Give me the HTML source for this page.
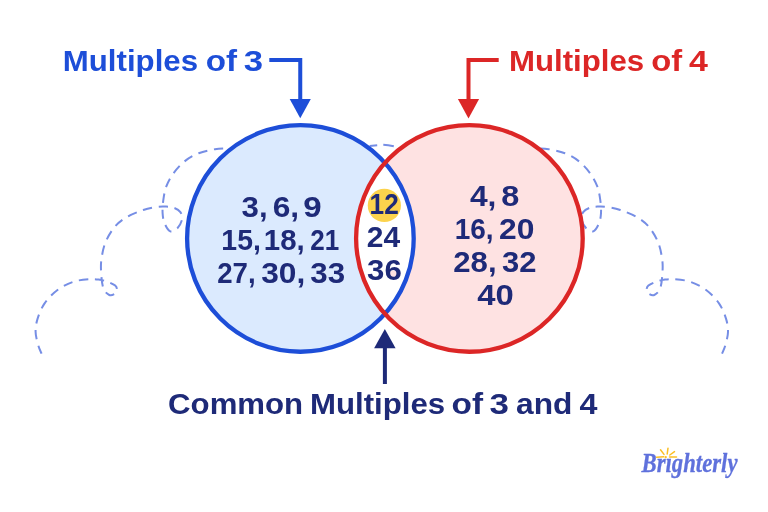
<!DOCTYPE html>
<html lang="en"><head><meta charset="utf-8"><title>Common Multiples of 3 and 4</title>
<style>
html,body{margin:0;padding:0;background:#fff;}
svg{display:block;font-family:"Liberation Sans",sans-serif;font-weight:bold;}
.cl{fill:none;stroke:#768ee5;stroke-width:2;stroke-dasharray:9.3 6.7;stroke-dashoffset:7.1;stroke-linecap:butt;}
</style></head><body>
<svg width="768" height="512" viewBox="0 0 768 512">
<rect width="768" height="512" fill="#fff"/>
<defs><mask id="aa"><rect width="768" height="512" fill="#fff"/></mask><clipPath id="lens"><circle cx="300.4" cy="238.45" r="113.3"/></clipPath></defs>
<!-- clouds -->
<path class="cl" d="M232.0,147.9C231.3,147.9 230.9,148.0 228.1,148.2C225.3,148.4 219.9,148.3 215.0,149.2C210.1,150.0 203.8,151.3 198.7,153.3C193.6,155.3 188.7,158.0 184.5,161.4C180.3,164.8 176.4,169.3 173.3,173.5C170.2,177.7 167.9,182.1 166.2,186.7C164.5,191.3 163.8,196.6 163.2,201.0C162.6,205.4 162.4,209.4 162.6,213.1C162.8,216.8 163.3,220.2 164.6,223.3C165.9,226.4 168.2,230.6 170.3,231.4C172.4,232.2 175.4,230.3 177.4,228.3C179.4,226.3 181.6,221.9 182.1,219.2C182.6,216.5 181.7,214.0 180.4,212.1C179.1,210.2 176.8,208.9 174.4,208.0C172.0,207.1 169.3,206.8 166.2,206.6C163.1,206.4 159.8,206.4 156.0,207.0C152.2,207.6 148.2,208.3 143.3,210.0C138.5,211.7 131.6,214.3 126.9,217.0C122.2,219.7 118.7,222.2 115.2,226.3C111.7,230.4 108.1,236.3 105.8,241.6C103.5,246.9 102.4,252.9 101.6,258.0C100.8,263.1 100.8,266.9 101.1,272.0C101.4,277.1 102.0,284.6 103.4,288.4C104.8,292.2 107.3,294.1 109.3,295.0C111.3,295.9 113.9,294.5 115.2,293.6C116.5,292.7 117.0,290.9 117.0,289.6C117.0,288.3 116.7,286.9 115.2,285.6C113.7,284.3 110.6,282.9 108.1,281.9C105.5,280.9 102.9,280.2 99.9,279.8C96.9,279.4 94.6,278.9 90.3,279.2C86.0,279.5 79.4,279.8 73.9,281.6C68.4,283.4 62.4,286.4 57.5,290.0C52.6,293.6 47.9,298.6 44.6,303.4C41.3,308.2 39.1,313.8 37.6,318.6C36.1,323.4 35.5,327.5 35.6,332.0C35.7,336.5 37.3,341.9 38.3,345.5C39.3,349.1 41.0,352.3 41.6,353.7"/>
<path class="cl" d="M531.6,147.9C532.2,147.9 532.7,148.0 535.5,148.2C538.3,148.4 543.7,148.3 548.6,149.2C553.5,150.0 559.8,151.3 564.9,153.3C570.0,155.3 574.9,158.0 579.1,161.4C583.3,164.8 587.2,169.3 590.3,173.5C593.3,177.7 595.7,182.1 597.4,186.7C599.1,191.3 599.8,196.6 600.4,201.0C601.0,205.4 601.2,209.4 601.0,213.1C600.8,216.8 600.3,220.2 599.0,223.3C597.7,226.4 595.4,230.6 593.3,231.4C591.2,232.2 588.2,230.3 586.2,228.3C584.2,226.3 582.0,221.9 581.5,219.2C581.0,216.5 581.9,214.0 583.2,212.1C584.5,210.2 586.8,208.9 589.2,208.0C591.6,207.1 594.3,206.8 597.4,206.6C600.5,206.4 603.8,206.4 607.6,207.0C611.4,207.6 615.4,208.3 620.3,210.0C625.1,211.7 632.0,214.3 636.7,217.0C641.4,219.7 644.9,222.2 648.4,226.3C651.9,230.4 655.5,236.3 657.8,241.6C660.1,246.9 661.2,252.9 662.0,258.0C662.8,263.1 662.8,266.9 662.5,272.0C662.2,277.1 661.6,284.6 660.2,288.4C658.8,292.2 656.3,294.1 654.3,295.0C652.3,295.9 649.7,294.5 648.4,293.6C647.1,292.7 646.6,290.9 646.6,289.6C646.6,288.3 646.9,286.9 648.4,285.6C649.9,284.3 653.0,282.9 655.5,281.9C658.0,280.9 660.7,280.2 663.7,279.8C666.7,279.4 669.0,278.9 673.3,279.2C677.6,279.5 684.2,279.8 689.7,281.6C695.2,283.4 701.2,286.4 706.1,290.0C711.0,293.6 715.7,298.6 719.0,303.4C722.3,308.2 724.5,313.8 726.0,318.6C727.5,323.4 728.1,327.5 728.0,332.0C727.9,336.5 726.3,341.9 725.3,345.5C724.3,349.1 722.5,352.3 722.0,353.7"/>
<path class="cl" style="stroke-dasharray:none" d="M369.6,145.9L377.2,145.3M383.3,144.8Q388,145 393.8,146.3"/>
<!-- circles -->
<circle cx="300.4" cy="238.45" r="113.3" fill="#dbeafe"/>
<circle cx="469.4" cy="238.45" r="113.3" fill="#fee2e2"/>
<circle cx="469.4" cy="238.45" r="113.3" fill="#fff" clip-path="url(#lens)"/>
<circle cx="300.4" cy="238.45" r="113.3" fill="none" stroke="#1d4ed8" stroke-width="4.3"/>
<circle cx="469.4" cy="238.45" r="113.3" fill="none" stroke="#dc2626" stroke-width="4.3"/>
<circle cx="384.35" cy="205.45" r="16.6" fill="#fcd34d"/>
<ellipse cx="393.3" cy="273.7" rx="3.4" ry="3.2" fill="#fee2e2"/>
<!-- arrows -->
<path d="M269.3,60H300.25V100" fill="none" stroke="#1d4ed8" stroke-width="4"/>
<path d="M289.7,99H310.8L300.25,118.3Z" fill="#1d4ed8"/>
<path d="M498.7,60H468.5V100" fill="none" stroke="#dc2626" stroke-width="4"/>
<path d="M457.9,99H479.1L468.5,118.4Z" fill="#dc2626"/>
<path d="M384.9,384V347" fill="none" stroke="#1e2a78" stroke-width="4"/>
<path d="M374.1,348.2H395.6L384.85,328.9Z" fill="#1e2a78"/>
<!-- labels and numbers -->
<g mask="url(#aa)">
<text y="70.8" font-size="30.3" fill="#1d4ed8"><tspan x="62.84" textLength="135.19" lengthAdjust="spacingAndGlyphs">Multiples</tspan> <tspan x="205.73" textLength="31.30" lengthAdjust="spacingAndGlyphs">of</tspan> <tspan x="243.74" textLength="19.32" lengthAdjust="spacingAndGlyphs">3</tspan></text>
<text y="70.8" font-size="30.3" fill="#dc2626"><tspan x="508.94" textLength="135.19" lengthAdjust="spacingAndGlyphs">Multiples</tspan> <tspan x="651.25" textLength="30.89" lengthAdjust="spacingAndGlyphs">of</tspan> <tspan x="689.04" textLength="18.87" lengthAdjust="spacingAndGlyphs">4</tspan></text>
<text y="414.0" font-size="30.3" fill="#1e2a78"><tspan x="168.11" textLength="134.96" lengthAdjust="spacingAndGlyphs">Common</tspan> <tspan x="309.94" textLength="135.14" lengthAdjust="spacingAndGlyphs">Multiples</tspan> <tspan x="451.62" textLength="31.51" lengthAdjust="spacingAndGlyphs">of</tspan> <tspan x="489.53" textLength="19.44" lengthAdjust="spacingAndGlyphs">3</tspan> <tspan x="516.05" textLength="56.36" lengthAdjust="spacingAndGlyphs">and</tspan> <tspan x="579.47" textLength="17.94" lengthAdjust="spacingAndGlyphs">4</tspan></text>
<text y="217.0" font-size="28.6" fill="#1e2a78"><tspan x="241.58" textLength="26.04" lengthAdjust="spacingAndGlyphs">3,</tspan> <tspan x="272.69" textLength="26.46" lengthAdjust="spacingAndGlyphs">6,</tspan> <tspan x="303.24" textLength="18.39" lengthAdjust="spacingAndGlyphs">9</tspan></text>
<text y="250.0" font-size="28.6" fill="#1e2a78"><tspan x="221.36" textLength="39.48" lengthAdjust="spacingAndGlyphs">15,</tspan> <tspan x="263.80" textLength="40.86" lengthAdjust="spacingAndGlyphs">18,</tspan> <tspan x="310.29" textLength="28.95" lengthAdjust="spacingAndGlyphs">21</tspan></text>
<text y="283.0" font-size="28.6" fill="#1e2a78"><tspan x="217.23" textLength="38.41" lengthAdjust="spacingAndGlyphs">27,</tspan> <tspan x="261.17" textLength="44.06" lengthAdjust="spacingAndGlyphs">30,</tspan> <tspan x="310.38" textLength="34.78" lengthAdjust="spacingAndGlyphs">33</tspan></text>
<text y="205.8" font-size="28.6" fill="#1e2a78"><tspan x="469.94" textLength="26.51" lengthAdjust="spacingAndGlyphs">4,</tspan> <tspan x="501.36" textLength="18.06" lengthAdjust="spacingAndGlyphs">8</tspan></text>
<text y="238.8" font-size="28.6" fill="#1e2a78"><tspan x="454.69" textLength="38.87" lengthAdjust="spacingAndGlyphs">16,</tspan> <tspan x="499.09" textLength="35.37" lengthAdjust="spacingAndGlyphs">20</tspan></text>
<text y="271.8" font-size="28.6" fill="#1e2a78"><tspan x="453.31" textLength="43.27" lengthAdjust="spacingAndGlyphs">28,</tspan> <tspan x="501.99" textLength="34.46" lengthAdjust="spacingAndGlyphs">32</tspan></text>
<text y="304.8" font-size="28.6" fill="#1e2a78"><tspan x="477.23" textLength="36.48" lengthAdjust="spacingAndGlyphs">40</tspan></text>
<text y="214.3" font-size="28.6" fill="#1e2a78"><tspan x="369.59" textLength="29.18" lengthAdjust="spacingAndGlyphs">12</tspan></text>
<text y="247.1" font-size="28.6" fill="#1e2a78"><tspan x="366.85" textLength="33.38" lengthAdjust="spacingAndGlyphs">24</tspan></text>
<text y="280.1" font-size="28.6" fill="#1e2a78"><tspan x="367.08" textLength="34.68" lengthAdjust="spacingAndGlyphs">36</tspan></text>
</g>
<!-- logo -->
<g mask="url(#aa)">
<text x="641.5" y="471.8" font-size="28" font-family="'Liberation Serif',serif" font-style="italic" fill="#5f71dc" stroke="#5f71dc" stroke-width="0.3" textLength="96" lengthAdjust="spacingAndGlyphs">Brighterly</text>
</g>
<circle cx="668.6" cy="454.4" r="3.6" fill="#fff"/>
<g stroke="#fbbf24" stroke-width="1.5" stroke-linecap="round" fill="none">
<path d="M656.6,457.2L663.6,456.8M660.5,449.8L664,454.4M668,448.2L667.2,454M674.5,451.6L669.8,455M669.5,457H676.5"/>
</g>
<circle cx="665.7" cy="457.1" r="1.2" fill="#fbbf24"/>
</svg>
</body></html>
